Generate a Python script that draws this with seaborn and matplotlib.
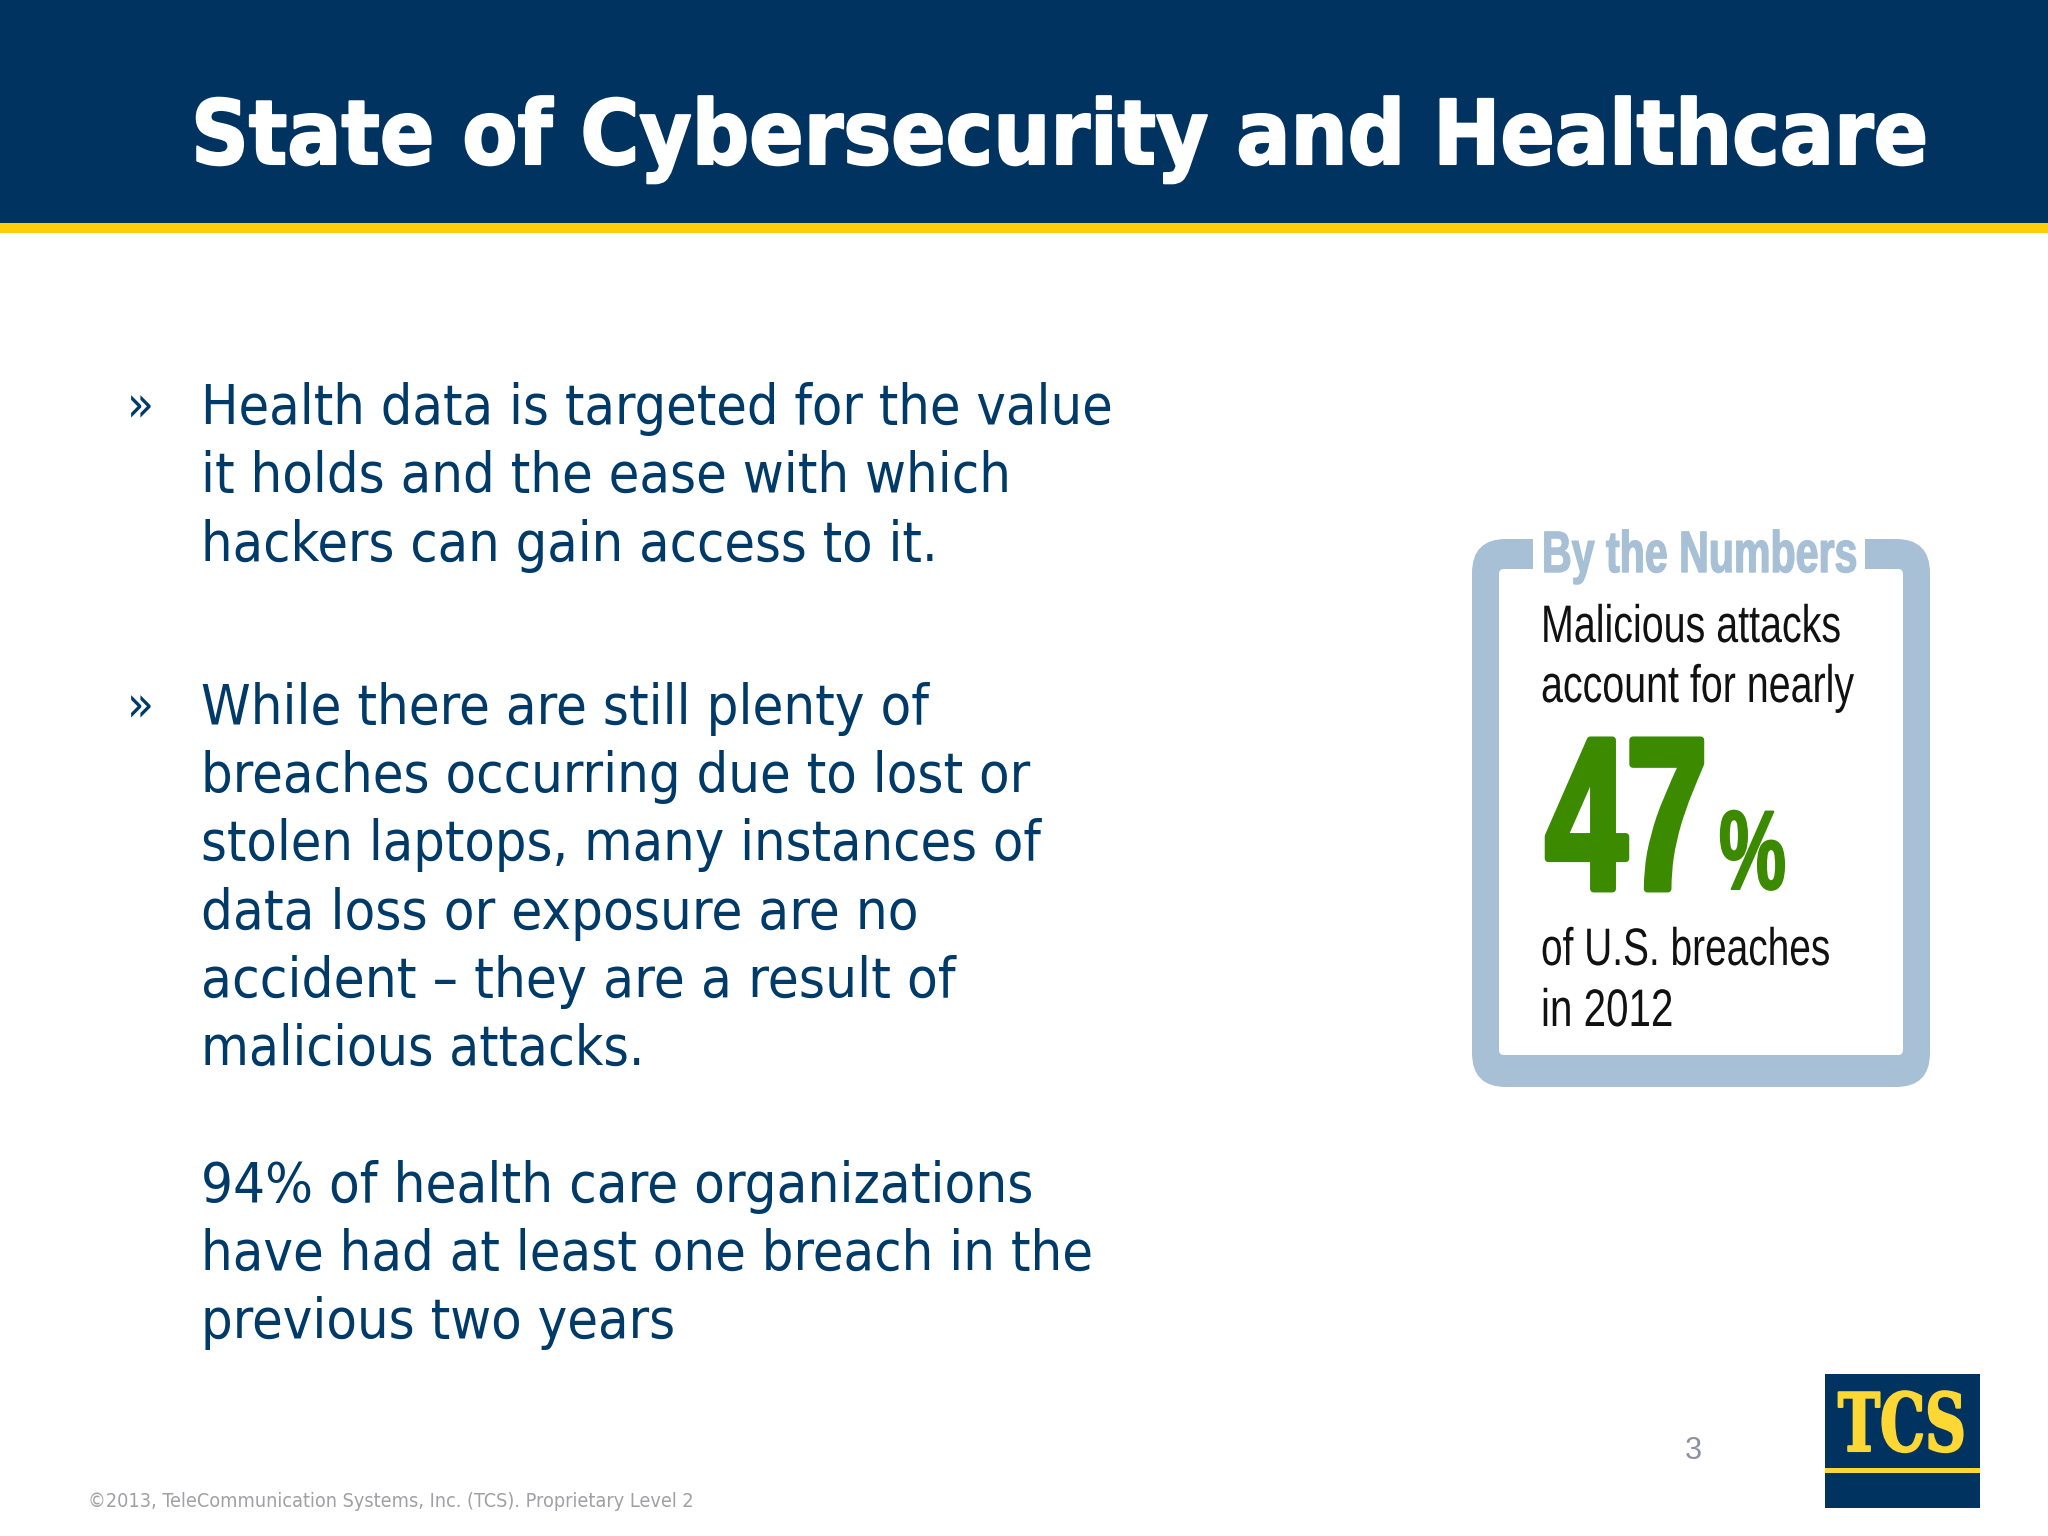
import matplotlib
matplotlib.use("Agg")
import matplotlib.pyplot as plt
from matplotlib.patches import Rectangle, FancyBboxPatch
from matplotlib.patheffects import AbstractPathEffect
from matplotlib.transforms import Affine2D
from matplotlib import font_manager as fm
import seaborn as sns

TITLE = "State of Cybersecurity and Healthcare"
BODY_1 = ["Health data is targeted for the value", "it holds and the ease with which", "hackers can gain access to it."]
BODY_2 = ["While there are still plenty of", "breaches occurring due to lost or", "stolen laptops, many instances of",
          "data loss or exposure are no", "accident \u2013 they are a result of", "malicious attacks."]
BODY_3 = ["94% of health care organizations", "have had at least one breach in the", "previous two years"]
BOX_TITLE = "By the Numbers"
BOX_TOP = ["Malicious attacks", "account for nearly"]
BOX_VALUE = "47"
BOX_UNIT = "%"
BOX_BOTTOM = ["of U.S. breaches", "in 2012"]
FOOTER = "\u00a92013, TeleCommunication Systems, Inc. (TCS). Proprietary Level 2"
PAGE = "3"
LOGO = "TCS"

NAVY, GOLD, BLUE, BOX, GREEN = "#00335f", "#fdcd07", "#003a68", "#a7c0d5", "#3c8a00"

sns.set_theme(style="white")
fig = plt.figure(figsize=(20.48, 15.36), dpi=100, facecolor="white")
ax = fig.add_axes([0, 0, 1, 1])
ax.set_xlim(0, 2048); ax.set_ylim(1536, 0); ax.axis("off")
sns.despine(ax=ax, left=True, bottom=True)

condensed = any(f.name == "DejaVu Sans" and f.stretch == "condensed" for f in fm.fontManager.ttflist)
st = "condensed" if condensed else "normal"
renderer = fig.canvas.get_renderer()


class Tall(AbstractPathEffect):
    """Stretch the glyphs of a real text upward from its baseline, and optionally embolden them."""
    def __init__(self, base, sy=1.0, stroke=0.0):
        super().__init__()
        self.base, self.sy, self.stroke = base, sy, stroke

    def draw_path(self, renderer, gc, tpath, affine, rgbFace=None):
        stretch = Affine2D().translate(0, -self.base).scale(1, self.sy).translate(0, self.base)
        gc0 = renderer.new_gc()
        gc0.copy_properties(gc)
        gc0.set_linewidth(self.stroke)
        gc0.set_foreground(rgbFace)
        renderer.draw_path(gc0, tpath, affine + stretch, rgbFace)
        gc0.restore()


def fit(s, x, y, width, color, family="DejaVu Sans", weight="normal", stretch="normal", stroke=0.0, size=None):
    """Real text sized to the reference's width; size (pt) gives its glyphs the reference's height."""
    t = ax.text(x, y, s, color=color, family=family, weight=weight, stretch=stretch, ha="left", va="baseline", fontsize=40)
    w = t.get_window_extent(renderer).width
    fs = 40 * width / w
    t.set_fontsize(fs)
    if stroke or size:
        base = ax.transData.transform((x, y))[1]
        t.set_path_effects([Tall(base, (size / fs) if size else 1.0, stroke)])
    return t


ax.add_patch(Rectangle((0, 0), 2048, 223, color=NAVY, lw=0))
ax.add_patch(Rectangle((0, 223), 2048, 10, color=GOLD, lw=0))
fit(TITLE, 191, 164, 1735, "white", weight="bold", stretch=st, stroke=1.5)


def body(lines, ys, widths):
    for s, y, w in zip(lines, ys, widths):
        fit(s, 201, y, w, BLUE, stretch=st)


body(BODY_1, [424, 492, 561], [912, 810, 736])
body(BODY_2, [724, 792, 860, 929, 997, 1065], [727, 829, 839, 716, 754, 443])
body(BODY_3, [1202, 1270, 1338], [832, 891, 474])
for y in (421, 721):
    fit("\u00bb", 127, y, 27, BLUE, stretch=st)

ax.add_patch(FancyBboxPatch((1506, 573), 390, 480, boxstyle="round,pad=34,rounding_size=34", fc=BOX, ec="none"))
ax.add_patch(FancyBboxPatch((1504, 574), 394, 476, boxstyle="round,pad=5,rounding_size=5", fc="white", ec="none"))
ax.add_patch(Rectangle((1533, 530), 332, 42, color="white", lw=0))
SANS = "Liberation Sans"
fit(BOX_TITLE, 1542, 572, 315, BOX, family=SANS, weight="bold", stroke=1.0, size=42)
fit(BOX_TOP[0], 1541, 642, 300, "#111111", family=SANS, size=38)
fit(BOX_TOP[1], 1541, 702, 313, "#111111", family=SANS, size=38)
fit(BOX_VALUE, 1546, 889, 161, GREEN, family=SANS, weight="bold", stroke=5.0, size=156)
fit(BOX_UNIT, 1719, 889, 67, GREEN, family=SANS, weight="bold", stroke=1.5, size=81)
fit(BOX_BOTTOM[0], 1541, 965, 289, "#111111", family=SANS, size=38)
fit(BOX_BOTTOM[1], 1541, 1026, 132, "#111111", family=SANS, size=38)

fit(FOOTER, 88, 1507, 605, "#a0a0a5", stretch=st)
fit(PAGE, 1685, 1459, 17, "#8f909f", family=SANS)

ax.add_patch(Rectangle((1825, 1374), 155, 134, color=NAVY, lw=0))
ax.add_patch(Rectangle((1825, 1468), 155, 5, color="#fdd835", lw=0))
fit(LOGO, 1838, 1451, 128, "#fdd835", family="DejaVu Serif", weight="bold", stroke=1.5, size=58)

fig.savefig("out.png", dpi=100, facecolor="white")
